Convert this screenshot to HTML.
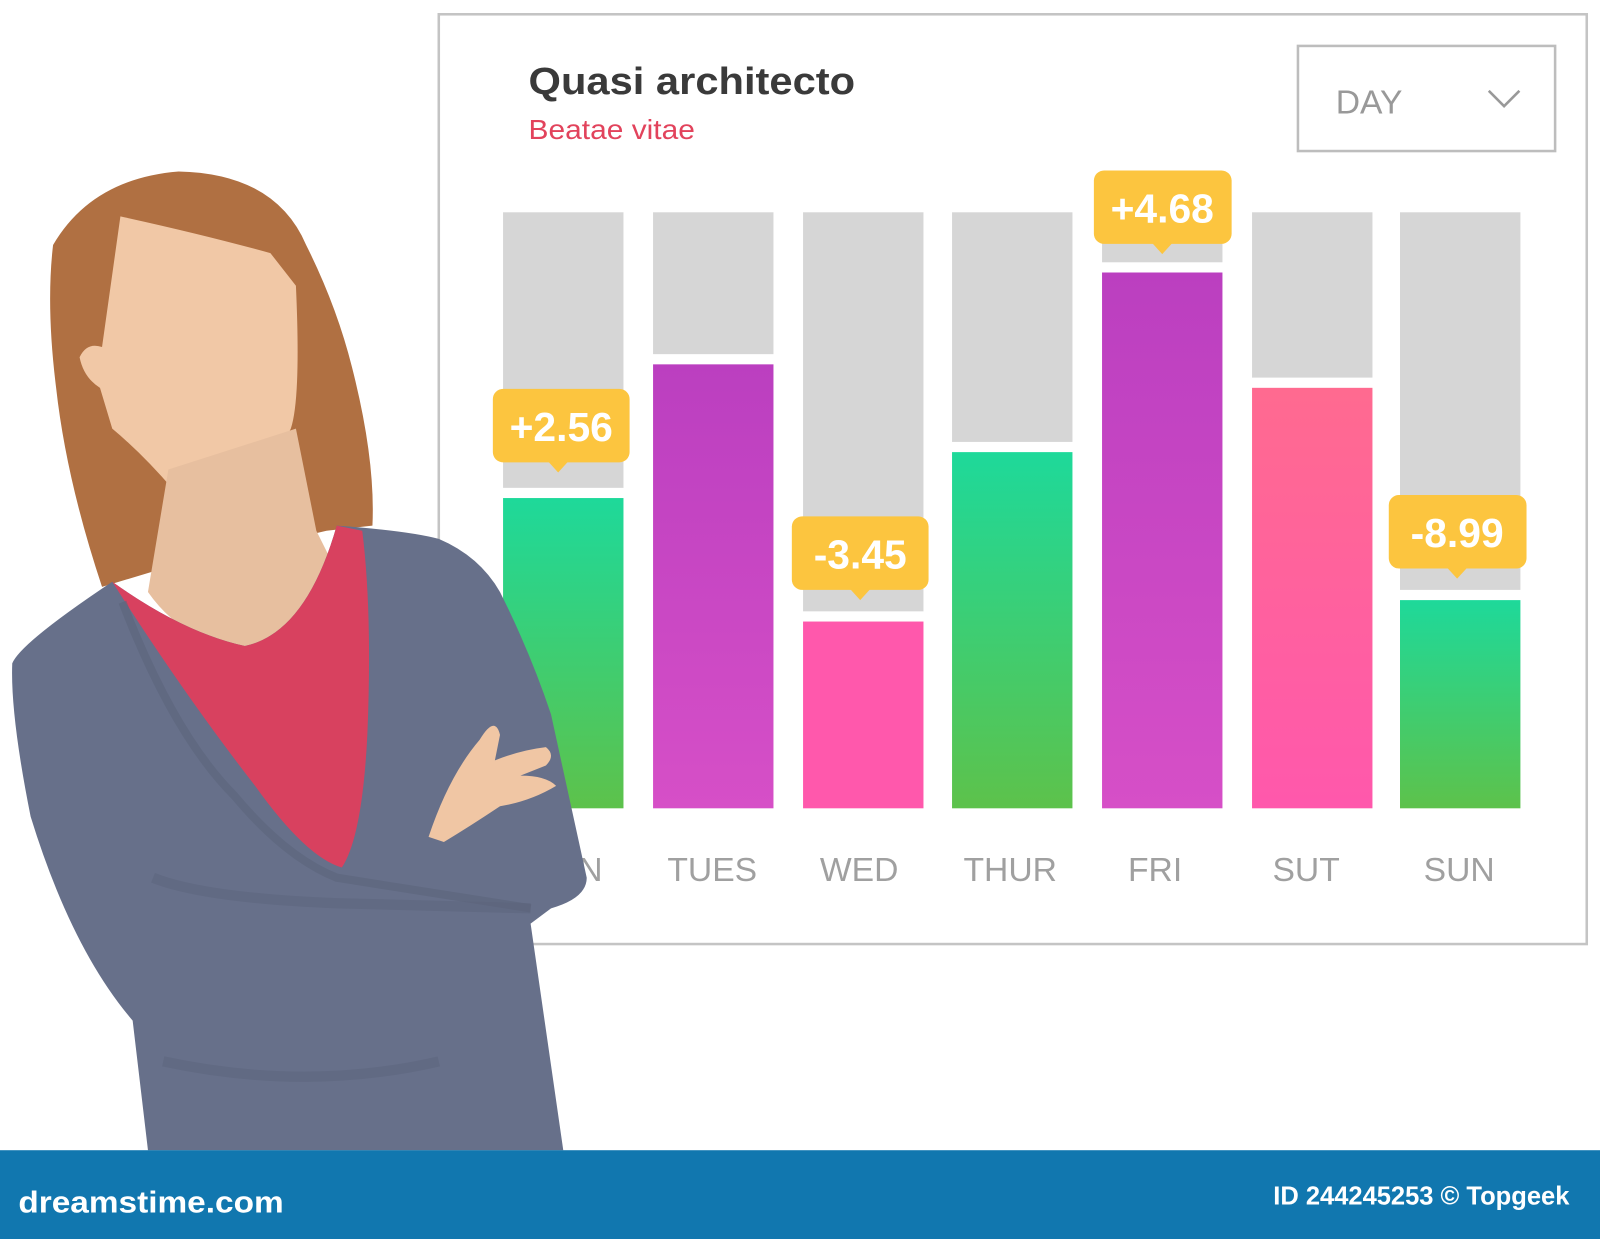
<!DOCTYPE html>
<html><head><meta charset="utf-8"><style>
html,body{margin:0;padding:0;background:#fff;}
svg{display:block}
text{font-family:"Liberation Sans","DejaVu Sans",sans-serif}
</style></head><body>
<svg width="1600" height="1239" viewBox="0 0 1568 1214" preserveAspectRatio="none" xmlns="http://www.w3.org/2000/svg">
<defs>
<linearGradient id="g" x1="0" y1="0" x2="0" y2="1"><stop offset="0" stop-color="#1ed99a"/><stop offset="1" stop-color="#5dc24b"/></linearGradient>
<linearGradient id="p" x1="0" y1="0" x2="0" y2="1"><stop offset="0" stop-color="#bb3fc0"/><stop offset="1" stop-color="#d64fc7"/></linearGradient>
<linearGradient id="k" x1="0" y1="0" x2="0" y2="1"><stop offset="0" stop-color="#ff6a90"/><stop offset="1" stop-color="#ff58ac"/></linearGradient>
</defs>
<rect width="1568" height="1214" fill="#fff"/>
<rect x="430" y="14" width="1125" height="911" fill="#fff" stroke="#c4c4c4" stroke-width="2.5"/>
<text x="518" y="92" font-size="37" font-weight="bold" fill="#3a3a3a" textLength="320" lengthAdjust="spacingAndGlyphs">Quasi architecto</text>
<text x="518" y="136" font-size="27" fill="#e2435c" textLength="163" lengthAdjust="spacingAndGlyphs">Beatae vitae</text>
<rect x="1272" y="45" width="252" height="103" fill="#fff" stroke="#bdbdbd" stroke-width="2.5"/>
<text x="1309" y="111" font-size="33" fill="#999">DAY</text>
<path d="M1459 89 L1474 104 L1489 89" fill="none" stroke="#999" stroke-width="2.5"/>
<g>
<rect x="493" y="208" width="118" height="270" fill="#d6d6d6"/><rect x="493" y="488" width="118" height="304" fill="url(#g)"/>
<rect x="640" y="208" width="118" height="139" fill="#d6d6d6"/><rect x="640" y="357" width="118" height="435" fill="url(#p)"/>
<rect x="787" y="208" width="118" height="391" fill="#d6d6d6"/><rect x="787" y="609" width="118" height="183" fill="#ff58ac"/>
<rect x="933" y="208" width="118" height="225" fill="#d6d6d6"/><rect x="933" y="443" width="118" height="349" fill="url(#g)"/>
<rect x="1080" y="208" width="118" height="49" fill="#d6d6d6"/><rect x="1080" y="267" width="118" height="525" fill="url(#p)"/>
<rect x="1227" y="208" width="118" height="162" fill="#d6d6d6"/><rect x="1227" y="380" width="118" height="412" fill="url(#k)"/>
<rect x="1372" y="208" width="118" height="370" fill="#d6d6d6"/><rect x="1372" y="588" width="118" height="204" fill="url(#g)"/>
</g>
<g fill="#fcc53f">
<rect x="483" y="381" width="134" height="72" rx="10"/><path d="M537 452 L547 463 L557 452Z"/>
<rect x="776" y="506" width="134" height="72" rx="10"/><path d="M833 577 L843 588 L853 577Z"/>
<rect x="1072" y="167" width="135" height="72" rx="10"/><path d="M1129 238 L1139 249 L1149 238Z"/>
<rect x="1361" y="485" width="135" height="72" rx="10"/><path d="M1418 556 L1428 567 L1438 556Z"/>
</g>
<g font-size="40" font-weight="bold" fill="#fff" text-anchor="middle">
<text x="550" y="432">+2.56</text>
<text x="843" y="557">-3.45</text>
<text x="1139" y="218">+4.68</text>
<text x="1428" y="536">-8.99</text>
</g>
<g font-size="33" fill="#a0a0a0" text-anchor="middle">
<text x="552" y="863">MON</text><text x="698" y="863">TUES</text><text x="842" y="863">WED</text>
<text x="990" y="863">THUR</text><text x="1132" y="863">FRI</text><text x="1280" y="863">SUT</text><text x="1430" y="863">SUN</text>
</g>
<path d="M52 240 Q90 175 175 168 Q270 170 300 240 Q330 300 345 360 Q368 450 365 515 L320 520 L150 560 L100 575 Q65 470 55 380 Q45 300 52 240Z" fill="#b07042"/>
<path d="M118 212 Q200 230 265 248 L290 280 Q295 390 285 420 Q255 480 228 495 Q195 505 170 480 Q140 445 110 420 L98 380 Q82 370 78 350 Q85 335 100 340 Z" fill="#f1c8a6"/>
<path d="M165 460 L290 420 L310 520 L330 560 Q300 620 240 635 Q180 630 145 580 Z" fill="#e7bf9f"/>
<path d="M12 650 Q20 630 110 570 Q180 620 240 633 Q300 620 330 515 Q400 520 430 528 Q470 545 490 580 Q520 640 540 700 L575 860 Q575 880 540 890 L520 905 L552 1127 L145 1127 L130 1000 Q70 930 30 800 Q10 700 12 650Z" fill="#67708a"/>
<path d="M110 570 Q180 620 240 633 Q300 620 330 515 L355 520 Q365 600 360 720 Q355 820 335 850 Q300 840 250 770 Q180 680 110 570Z" fill="#d8415f"/>
<path d="M120 590 Q170 720 230 780 Q280 840 330 860 L520 890" fill="none" stroke="#5b647c" stroke-width="8" opacity=".6"/>
<path d="M150 860 Q200 880 330 885 L520 890" fill="none" stroke="#5b647c" stroke-width="10" opacity=".5"/>
<path d="M160 1040 Q300 1070 430 1040" fill="none" stroke="#5b647c" stroke-width="10" opacity=".5"/>
<path d="M420 820 Q440 760 470 725 Q485 700 490 720 L485 745 Q510 735 535 732 Q545 740 535 750 L510 760 Q535 760 545 770 Q520 785 490 790 Q460 810 435 825Z" fill="#f0c6a4"/>
<rect x="0" y="1127" width="1568" height="87" fill="#1177af"/>
<text x="18" y="1188" font-size="30" font-weight="bold" fill="#fff" textLength="260" lengthAdjust="spacingAndGlyphs">dreamstime.com</text>
<text x="1538" y="1180" font-size="25" font-weight="bold" fill="#fff" text-anchor="end">ID 244245253 © Topgeek</text>
</svg>
</body></html>
